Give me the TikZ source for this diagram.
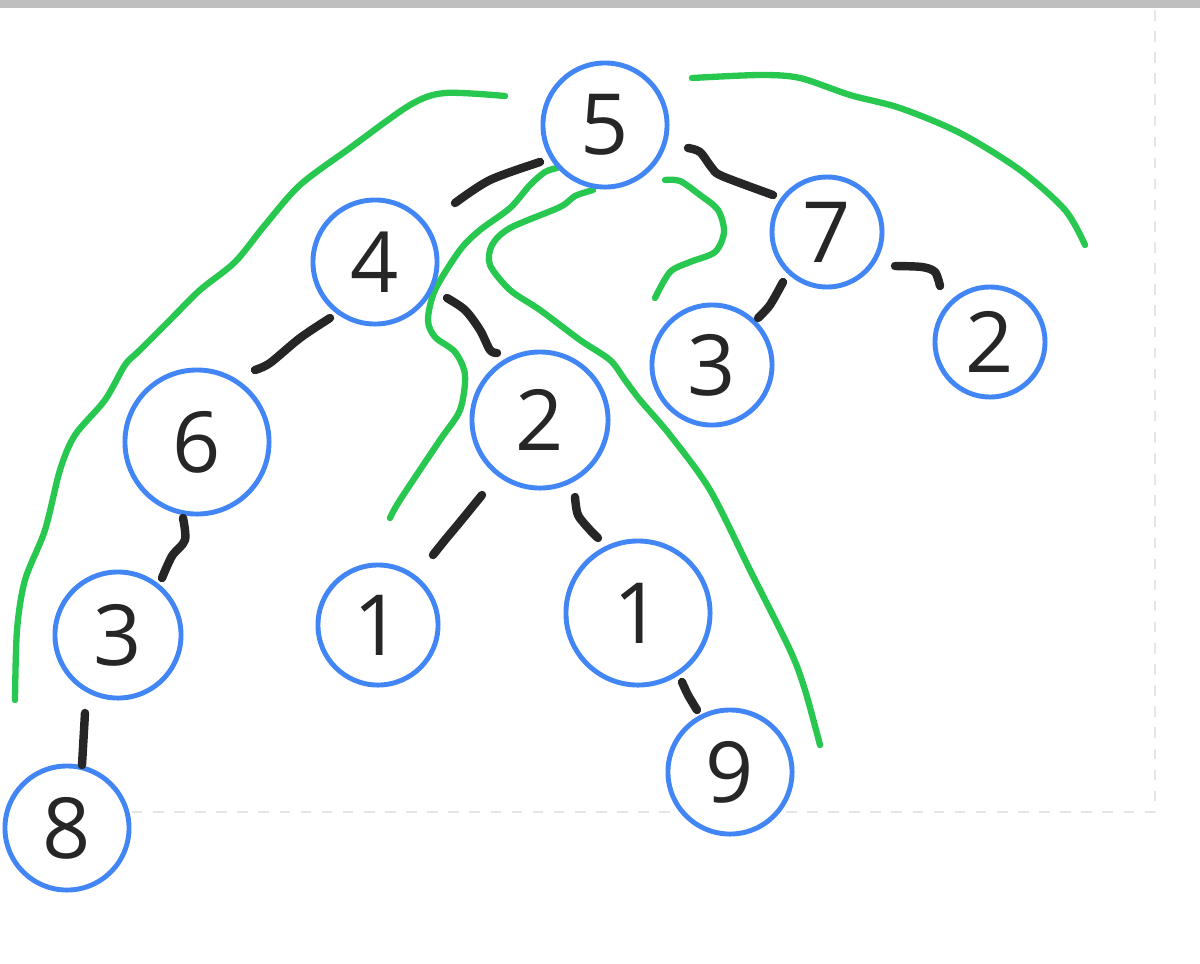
\documentclass[tikz,border=0pt]{standalone}
\usepackage{fontspec}
\setmainfont{Open Sans}
\definecolor{nb}{RGB}{66,133,244}
\definecolor{gg}{RGB}{40,200,80}
\begin{document}
\begin{tikzpicture}[x=0.01cm,y=-0.01cm,
  tn/.style={circle,draw=nb,line width=1.4pt,fill=white,inner sep=0pt,font=\fontsize{24}{28}\selectfont,text=black!85},
  bk/.style={line width=2.4pt,line cap=round,line join=round,black!85},
  gr/.style={line width=1.8pt,line cap=round,line join=round,gg}]
\useasboundingbox (0,0) rectangle (1200,963);
\fill[gray!50] (0,0) rectangle (1200,8);
\draw[gray!20,dashed,line width=0.8pt] (1155,10) -- (1155,812) -- (0,812);
% green strokes
\draw[gr] plot[smooth] coordinates {(15,700) (17,630) (25,580) (45,530) (60,470) (75,435) (105,400) (125,365) (140,350) (170,320) (200,290) (235,262) (265,225) (300,185) (350,148) (410,105) (445,93) (505,96)};
\draw[gr] plot[smooth] coordinates {(692,78) (760,75) (800,78) (850,95) (900,108) (960,133) (1020,170) (1065,210) (1085,245)};
\draw[gr] plot[smooth] coordinates {(390,518) (400,500) (440,440) (460,410) (465,375) (455,352) (435,337) (428,320) (435,290) (460,250) (480,230) (510,208) (530,185) (545,172) (557,168)};
\draw[gr] plot[smooth] coordinates {(593,190) (575,196) (560,207) (510,228) (492,245) (490,265) (510,290) (540,310) (580,340) (610,360) (625,380) (640,400) (670,435) (710,490) (750,570) (790,650) (805,690) (820,745)};
\draw[gr] plot[smooth] coordinates {(665,180) (680,181) (700,195) (718,210) (724,232) (715,252) (690,262) (670,272) (655,298)};
% nodes
\node[tn,minimum size=1.24cm] (n5) at (605,125) {5};
\node[tn,minimum size=1.24cm] (n4) at (375,262) {4};
\node[tn,minimum size=1.10cm] (n7) at (827,232) {7};
\node[tn,minimum size=1.20cm] (n3b) at (712,365) {3};
\node[tn,minimum size=1.10cm] (n2r) at (990,342) {2};
\node[tn,minimum size=1.36cm] (n2m) at (540,420) {2};
\node[tn,minimum size=1.44cm] (n6) at (197,442) {6};
\node[tn,minimum size=1.26cm] (n3l) at (118,635) {3};
\node[tn,minimum size=1.20cm] (n1a) at (378,625) {1};
\node[tn,minimum size=1.44cm] (n1b) at (638,613) {1};
\node[tn,minimum size=1.24cm] (n9) at (730,772) {9};
\node[tn,minimum size=1.24cm] (n8) at (67,828) {8};
% black strokes
\draw[bk] plot[smooth] coordinates {(455,203) (490,180) (540,162)};
\draw[bk] plot[smooth] coordinates {(688,148) (700,152) (712,168) (722,176) (773,195)};
\draw[bk] plot[smooth] coordinates {(758,318) (770,305) (783,282)};
\draw[bk] plot[smooth] coordinates {(895,266) (922,267) (935,272) (940,286)};
\draw[bk] plot[smooth] coordinates {(447,298) (465,310) (480,330) (490,350) (497,353)};
\draw[bk] plot[smooth] coordinates {(255,370) (270,363) (300,338) (330,318)};
\draw[bk] plot[smooth] coordinates {(183,518) (185,540) (172,556) (162,578)};
\draw[bk] plot[smooth] coordinates {(433,555) (445,540) (460,522) (482,495)};
\draw[bk] plot[smooth] coordinates {(575,497) (578,515) (590,530) (598,538)};
\draw[bk] plot[smooth] coordinates {(682,682) (688,695) (697,710)};
\draw[bk] (85,713) -- (82,765);
\end{tikzpicture}
\end{document}
